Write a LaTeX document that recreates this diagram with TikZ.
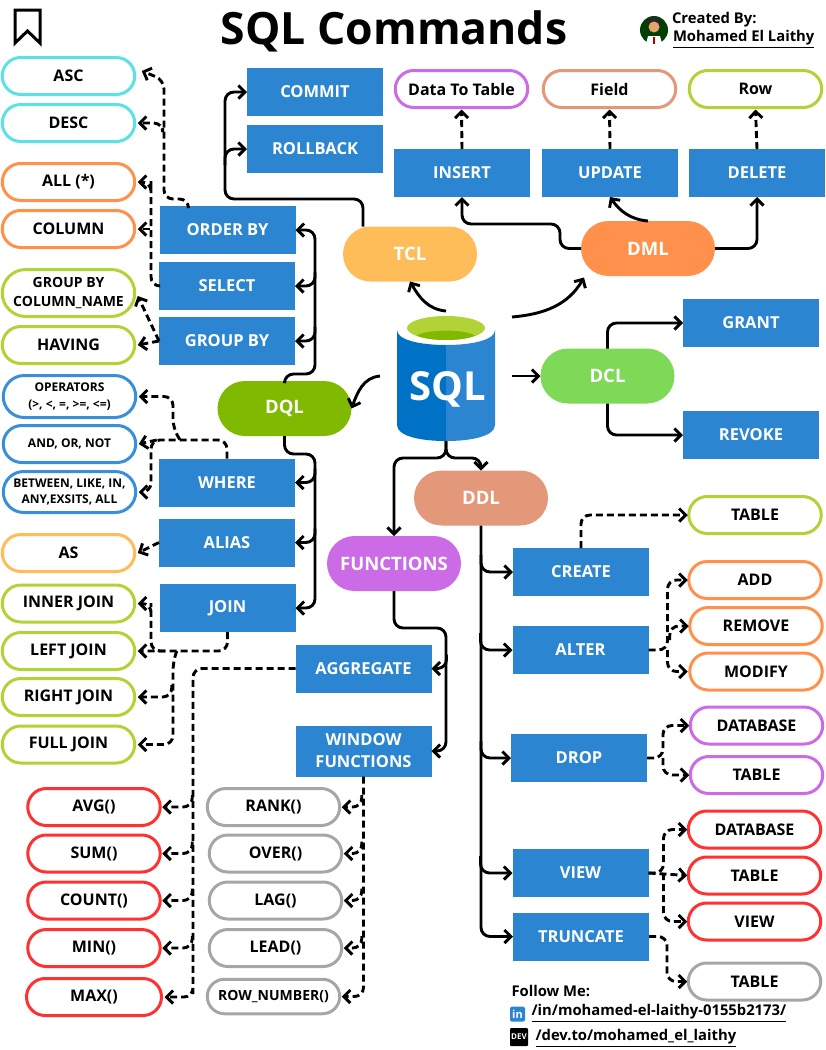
\documentclass[tikz,border=0pt]{standalone}
\usepackage{fontspec}
\setmainfont{Open Sans}
\usetikzlibrary{arrows.meta, shapes.misc}

\definecolor{boxblue}{HTML}{2B85D0}
\definecolor{sqlblue}{HTML}{0072C6}
\definecolor{cyanline}{HTML}{5CE1E6}
\definecolor{orangeline}{HTML}{FF914D}
\definecolor{limeline}{HTML}{B1D335}
\definecolor{blueline}{HTML}{3A8FD9}
\definecolor{amberline}{HTML}{FFBD59}
\definecolor{redline}{HTML}{FF3131}
\definecolor{greyline}{HTML}{A6A6A6}
\definecolor{purpleline}{HTML}{CB6CE6}
\definecolor{salmonline}{HTML}{E4987A}
\definecolor{dclgreen}{HTML}{7ED957}
\definecolor{dqlgreen}{HTML}{7FBA00}

\tikzstyle{Box} = [fill=boxblue, text=white, font=\bfseries\fontsize{16.5}{22}\selectfont, align=center, minimum width=136pt, minimum height=48pt, inner sep=0pt, outer sep=0pt]
\tikzstyle{Pill} = [rounded rectangle, draw, line width=3pt, fill=white, font=\bfseries\fontsize{16}{19}\selectfont, align=center, minimum width=132.5pt, minimum height=37pt, inner sep=0pt, outer sep=0pt]
\tikzstyle{Lang} = [rounded rectangle, text=white, font=\bfseries\fontsize{18.5}{22}\selectfont, minimum width=134pt, minimum height=55pt, inner sep=0pt, outer sep=0pt]

\begin{document}
\begin{tikzpicture}[x=1pt, y=-1pt,
    link/.style={draw, line width=2.9pt, rounded corners=9pt, -{Straight Barb[length=6.5pt,width=13pt]}},
    dashlink/.style={link, dash pattern=on 7pt off 4pt}]

    \useasboundingbox (0,0) rectangle (825,1050);

    % top strip
    \draw[line width=3pt, miter limit=4] (15,10) -- (40,10) -- (40,43) -- (27.5,31) -- (15,43) -- cycle;
    \node (title) at (394,31) {\bfseries\fontsize{44.5}{50}\selectfont SQL Commands};
    \fill[black!75!green] (654,30) circle (14);
    \fill[black!85] (654,24) circle (7);
    \fill[brown!60!orange!70] (654,27) circle (5.5);
    \fill[white] (646,44) -- (648,36) -- (660,36) -- (662,44) -- cycle;
    \fill[red!70!black] (653,37) rectangle (655,44);
    \node[anchor=west, font=\bfseries\fontsize{14.8}{16}\selectfont] (created) at (668.5,19.5) {Created By:};
    \node[anchor=west, font=\bfseries\fontsize{14.8}{16}\selectfont] (author) at (669.5,39) {\underline{Mohamed El Laithy}};

    % database
    \fill[fill=white] (446,330) ellipse (49 and 17);
    \fill[fill=sqlblue] (397,330) -- (397,425) .. controls (397,436) and (420,441) .. (446,441) -- (446,345) .. controls (420,345) and (397,340) .. (397,330) -- cycle;
    \fill[fill=boxblue] (495,330) -- (495,425) .. controls (495,436) and (472,441) .. (446,441) -- (446,345) .. controls (472,345) and (495,340) .. (495,330) -- cycle;
    \fill[fill=limeline] (446,328) ellipse (39 and 12);
    \fill[fill=dqlgreen] (417,335.5) .. controls (428,329) and (464,329) .. (475,335.5) .. controls (464,341.5) and (428,341.5) .. (417,335.5) -- cycle;
    \node[text=white, font=\bfseries\fontsize{40}{50}\selectfont] (sql) at (448,389) {SQL};

    % languages
    \node[Lang, fill=amberline] (tcl) at (410,254) {TCL};
    \node[Lang, fill=orangeline] (dml) at (648,248.5) {DML};
    \node[Lang, fill=dclgreen] (dcl) at (607.5,376) {DCL};
    \node[Lang, fill=dqlgreen] (dql) at (284.5,408.5) {DQL};
    \node[Lang, fill=salmonline] (ddl) at (481,498) {DDL};
    \node[Lang, fill=purpleline] (functions) at (394,563.5) {FUNCTIONS};

    % commands
    \node[Box] (commit) at (315,92) {COMMIT};
    \node[Box] (rollback) at (315,149) {ROLLBACK};
    \node[Box] (insert) at (462,173) {INSERT};
    \node[Box] (update) at (610,173) {UPDATE};
    \node[Box] (delete) at (757,173) {DELETE};
    \node[Box] (grant) at (751,323) {GRANT};
    \node[Box] (revoke) at (751,435) {REVOKE};
    \node[Box] (order-by) at (227.5,230) {ORDER BY};
    \node[Box] (select) at (227,286) {SELECT};
    \node[Box] (group-by) at (227,341) {GROUP BY};
    \node[Box] (where) at (227,482.5) {WHERE};
    \node[Box] (alias) at (227,542.5) {ALIAS};
    \node[Box] (join) at (227.5,608) {JOIN};
    \node[Box] (aggregate) at (363.5,668.5) {AGGREGATE};
    \node[Box, minimum height=51pt] (window) at (363.5,751) {WINDOW\\FUNCTIONS};
    \node[Box] (create) at (581,572) {CREATE};
    \node[Box] (alter) at (580.5,650) {ALTER};
    \node[Box] (drop) at (579,758) {DROP};
    \node[Box] (view) at (580.5,873) {VIEW};
    \node[Box] (truncate) at (581,936.5) {TRUNCATE};

    % top pills
    \node[Pill, draw=purpleline] (data-table) at (461.5,89) {Data To Table};
    \node[Pill, draw=salmonline] (field) at (609.5,89) {Field};
    \node[Pill, draw=limeline] (row) at (755.5,89) {Row};

    % left pills
    \node[Pill, draw=cyanline] (asc) at (68.5,76) {ASC};
    \node[Pill, draw=cyanline] (desc) at (68.5,123) {DESC};
    \node[Pill, draw=orangeline] (all-star) at (68.5,182) {ALL (*)};
    \node[Pill, draw=orangeline] (column) at (68.5,229) {COLUMN};
    \node[Pill, draw=limeline, minimum height=47pt, font=\bfseries\fontsize{14}{19}\selectfont] (group-col) at (68.5,293) {GROUP BY\\COLUMN\_NAME};
    \node[Pill, draw=limeline] (having) at (68.5,345) {HAVING};
    \node[Pill, draw=blueline, minimum height=42pt, font=\bfseries\fontsize{12}{16.5}\selectfont] (operators) at (69.5,396.5) {OPERATORS\\(>, <, =, >=, <=)};
    \node[Pill, draw=blueline, font=\bfseries\fontsize{12}{16}\selectfont] (and-or) at (69.5,444) {AND, OR, NOT};
    \node[Pill, draw=blueline, minimum height=41pt, font=\bfseries\fontsize{12}{16.5}\selectfont] (between) at (69.5,492) {BETWEEN, LIKE, IN,\\ANY,EXSITS, ALL};
    \node[Pill, draw=amberline] (alias-as) at (68.5,553) {AS};
    \node[Pill, draw=limeline] (inner-join) at (68.5,603.5) {INNER JOIN};
    \node[Pill, draw=limeline] (left-join) at (68.5,651) {LEFT JOIN};
    \node[Pill, draw=limeline] (right-join) at (68.5,697) {RIGHT JOIN};
    \node[Pill, draw=limeline] (full-join) at (68.5,744.5) {FULL JOIN};

    % bottom pills
    \node[Pill, draw=redline] (avg) at (94,807) {AVG()};
    \node[Pill, draw=redline] (sum) at (94,853.5) {SUM()};
    \node[Pill, draw=redline] (count) at (94,900.5) {COUNT()};
    \node[Pill, draw=redline] (min) at (94,948) {MIN()};
    \node[Pill, draw=redline, minimum width=135pt] (max) at (94,997) {MAX()};
    \node[Pill, draw=greyline] (rank) at (273.5,807) {RANK()};
    \node[Pill, draw=greyline] (over) at (275.5,853.5) {OVER()};
    \node[Pill, draw=greyline] (lag) at (275.5,900.5) {LAG()};
    \node[Pill, draw=greyline] (lead) at (275.5,948) {LEAD()};
    \node[Pill, draw=greyline, minimum height=34.5pt, font=\bfseries\fontsize{14}{16}\selectfont] (row-number) at (273.5,996.5) {ROW\_NUMBER()};

    % right pills
    \node[Pill, draw=limeline] (create-table) at (755,515) {TABLE};
    \node[Pill, draw=orangeline] (add) at (755,580) {ADD};
    \node[Pill, draw=orangeline] (remove) at (756,626) {REMOVE};
    \node[Pill, draw=orangeline] (modify) at (756,671.5) {MODIFY};
    \node[Pill, draw=purpleline] (drop-database) at (756.5,725.5) {DATABASE};
    \node[Pill, draw=purpleline] (drop-table) at (756.5,775) {TABLE};
    \node[Pill, draw=redline] (view-database) at (754.5,829.5) {DATABASE};
    \node[Pill, draw=redline] (view-table) at (754.5,875.5) {TABLE};
    \node[Pill, draw=redline] (view-view) at (754.5,921.5) {VIEW};
    \node[Pill, draw=greyline] (truncate-table) at (754.5,981.5) {TABLE};

    % footer
    \node[anchor=west, font=\bfseries\fontsize{14.8}{16}\selectfont] (follow) at (508,991) {Follow Me:};
    \node[fill=boxblue, rounded corners=1.5pt, text=white, font=\bfseries\fontsize{11}{11}\selectfont, minimum size=15pt, inner sep=0pt] (linkedin) at (517.5,1014) {in};
    \node[anchor=west, font=\bfseries\fontsize{14.8}{16}\selectfont] (linkedin-url) at (528,1013) {\underline{/in/mohamed-el-laithy-0155b2173/}};
    \node[fill=black, rounded corners=1pt, text=white, font=\bfseries\fontsize{8}{8}\selectfont, minimum width=18pt, minimum height=18pt, inner sep=0pt] (dev) at (519,1037) {DEV};
    \node[anchor=west, font=\bfseries\fontsize{14.8}{16}\selectfont] (dev-url) at (532,1038) {\underline{/dev.to/mohamed\_el\_laithy}};

    % language links
    \draw[link] ([shift={(-2pt,78pt)}]sql.center) to[out=175,in=-60] (tcl.south);
    \draw[link] ([shift={(64pt,72pt)}]sql.center) to[out=5,in=-120] ([shift={(-64pt,-29pt)}]dml.center);
    \draw[link] ([xshift=64pt,yshift=13pt]sql.center) -- (dcl.west);
    \draw[link] ([xshift=-68pt,yshift=13pt]sql.center) to[out=185,in=70] (dql.east);
    \draw[link] ([xshift=-2pt,yshift=-52pt]sql.center) -- ++(0,17) -| (ddl.north);
    \draw[link] ([xshift=-2pt,yshift=-52pt]sql.center) -- ++(0,17) -| (functions.north);

    % solid branches
    \draw[link] ([xshift=-47pt]tcl.north) |- (225,199) |- (commit.west);
    \draw[link] ([shift={(-22pt,-16pt)}]rollback.west) |- (rollback.west);
    \draw[link] (dml.west) -| (560,224) -| (insert.south);
    \draw[link] (dml.north) to[out=175,in=-55] (update.south);
    \draw[link] (dml.east) -| (delete.south);
    \draw[link] (dcl.north) |- (grant.west);
    \draw[link] (dcl.south) |- (revoke.west);
    \draw[link] (dql.north) |- (315,374) |- (order-by.east);
    \draw[link] ([shift={(20pt,14pt)}]select.east) |- (select.east);
    \draw[link] ([shift={(20pt,14pt)}]group-by.east) |- (group-by.east);
    \draw[link] (dql.south) |- (315,454) |- (join.east);
    \draw[link] ([shift={(20pt,14pt)}]where.east) |- (where.east);
    \draw[link] ([shift={(20pt,14pt)}]alias.east) |- (alias.east);
    \draw[link] (functions.south) |- (446,628) |- (window.east);
    \draw[link] ([shift={(15pt,14pt)}]aggregate.east) |- (aggregate.east);
    \draw[link] (ddl.south) |- (truncate.west);
    \draw[link] ([shift={(-32pt,17pt)}]create.west) |- (create.west);
    \draw[link] ([shift={(-32pt,17pt)}]alter.west) |- (alter.west);
    \draw[link] ([shift={(-30pt,17pt)}]drop.west) |- (drop.west);
    \draw[link] ([shift={(-32pt,17pt)}]view.west) |- (view.west);

    % dashed, top
    \draw[dashlink] (insert.north) -- ([yshift=-2pt]data-table.south);
    \draw[dashlink] (update.north) -- ([yshift=-2pt]field.south);
    \draw[dashlink] (delete.north) -- ([yshift=-2pt]row.south);

    % dashed, left
    \draw[dashlink] ([xshift=-39pt]order-by.north) -- ++(0,-7) -| (164,80) -- ([shift={(7pt,5pt)}]asc.east);
    \draw[dashlink] ([shift={(28pt,-5pt)}]desc.east) |- ([xshift=3pt]desc.east);
    \draw[dashlink] (select.west) -| (151,190) |- ([xshift=3pt]all-star.east);
    \draw[dashlink] ([xshift=15pt]column.east) -- ([xshift=3pt]column.east);
    \draw[dashlink] (group-by.west) -- ([shift={(3pt,-3pt)}]group-col.east);
    \draw[dashlink] (group-by.west) -- ([xshift=3pt]having.east);
    \draw[dashlink] (where.north) |- (151,440) |- ([xshift=3pt]between.east);
    \draw[dashlink] ([shift={(21pt,4pt)}]and-or.east) -- ([xshift=3pt]and-or.east);
    \draw[dashlink] ([shift={(44pt,-43pt)}]operators.east) -- (173,428) |- ([xshift=3pt]operators.east);
    \draw[dashlink] (alias.west) -- ([xshift=3pt]alias-as.east);
    \draw[dashlink] (join.south) |- ([xshift=3pt]left-join.east);
    \draw[dashlink] ([xshift=30pt]left-join.east) -| (151,612) |- ([xshift=3pt]inner-join.east);
    \draw[dashlink] ([xshift=42pt]left-join.east) -- (173,662) |- ([xshift=3pt]full-join.east);
    \draw[dashlink] ([shift={(37pt,12pt)}]right-join.east) |- ([xshift=3pt]right-join.east);

    % dashed, bottom
    \draw[dashlink] (aggregate.west) -| (193,985) |- ([xshift=3pt]max.east);
    \draw[dashlink] ([shift={(32pt,12pt)}]avg.east) |- ([xshift=2pt]avg.east);
    \draw[dashlink] ([shift={(32pt,12pt)}]sum.east) |- ([xshift=2pt]sum.east);
    \draw[dashlink] ([shift={(32pt,12pt)}]count.east) |- ([xshift=2pt]count.east);
    \draw[dashlink] ([shift={(32pt,12pt)}]min.east) |- ([xshift=2pt]min.east);
    \draw[dashlink] (window.south) |- ([xshift=2pt]row-number.east);
    \draw[dashlink] ([shift={(22pt,12pt)}]rank.east) |- ([xshift=2pt]rank.east);
    \draw[dashlink] ([shift={(20pt,12pt)}]over.east) |- ([xshift=2pt]over.east);
    \draw[dashlink] ([shift={(20pt,12pt)}]lag.east) |- ([xshift=2pt]lag.east);
    \draw[dashlink] ([shift={(20pt,12pt)}]lead.east) |- ([xshift=2pt]lead.east);

    % dashed, right
    \draw[dashlink] (create.north) |- ([xshift=-1pt]create-table.west);
    \draw[dashlink] (alter.east) -- ++(19,0) |- ([xshift=-1pt]add.west);
    \draw[dashlink] ([shift={(-20pt,-14pt)}]remove.west) |- ([xshift=-1pt]remove.west);
    \draw[dashlink] ([xshift=19pt]alter.east) |- ([xshift=-2pt]modify.west);
    \draw[dashlink] (drop.east) -- ++(16,0) |- ([xshift=-1pt]drop-database.west);
    \draw[dashlink] ([xshift=16pt]drop.east) |- ([xshift=-1pt]drop-table.west);
    \draw[dashlink] (view.east) -- ++(15,0) |- ([xshift=-1pt]view-database.west);
    \draw[dashlink] (view.east) -- ([xshift=-1pt]view-table.west);
    \draw[dashlink] ([xshift=15pt]view.east) |- ([xshift=-1pt]view-view.west);
    \draw[dashlink] (truncate.east) -- ++(18,0) |- ([xshift=-1pt]truncate-table.west);
\end{tikzpicture}
\end{document}
